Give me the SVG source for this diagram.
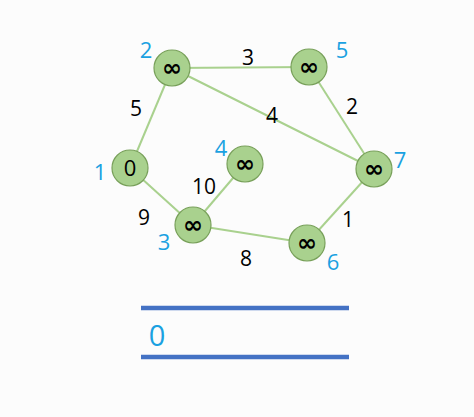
<svg xmlns="http://www.w3.org/2000/svg" width="474" height="417" viewBox="0 0 474 417">
<style>
.n{fill:#a9d18e;stroke:#78a05a;stroke-width:1.2}
.t{font-family:"Open Sans","Liberation Sans",sans-serif;font-size:22px;fill:#000;text-anchor:middle}
.i{font-family:"DejaVu Sans",sans-serif;font-size:24px;font-weight:bold;fill:#000;text-anchor:middle}
.b{font-family:"Open Sans","Liberation Sans",sans-serif;font-size:22px;fill:#1aa1e1;text-anchor:middle}
.w{font-family:"Open Sans","Liberation Sans",sans-serif;font-size:21px;fill:#000;text-anchor:middle}
.e{stroke:#a9d18e;stroke-width:2;fill:none}
</style>
<rect width="474" height="417" fill="#fcfcfc"/>
<g id="connectors">
<line class="e" x1="172" y1="68" x2="309" y2="67"/>
<line class="e" x1="172" y1="68" x2="374" y2="169"/>
<line class="e" x1="172" y1="68" x2="130" y2="168"/>
<line class="e" x1="309" y1="67" x2="374" y2="169"/>
<line class="e" x1="374" y1="169" x2="307" y2="243"/>
<line class="e" x1="130" y1="168" x2="193" y2="225"/>
<line class="e" x1="193" y1="225" x2="245" y2="164"/>
<line class="e" x1="193" y1="225" x2="307" y2="243"/>
<text class="w" x="248" y="65">3</text>
<text class="w" x="136" y="116">5</text>
<text class="w" x="272" y="123">4</text>
<text class="w" x="352" y="114">2</text>
<text class="w" x="204" y="194">10</text>
<text class="w" x="144" y="225">9</text>
<text class="w" x="246" y="266">8</text>
<text class="w" x="348" y="227">1</text>
</g>
<g id="node1"><circle class="n" cx="130" cy="168" r="18"/><text class="t" x="130" y="176">0</text><text class="b" x="100" y="180">1</text></g>
<g id="node2"><circle class="n" cx="172" cy="68" r="18"/><text class="i" x="172" y="76">∞</text><text class="b" x="146" y="58">2</text></g>
<g id="node3"><circle class="n" cx="193" cy="225" r="18"/><text class="i" x="193" y="233">∞</text><text class="b" x="164" y="250">3</text></g>
<g id="node4"><circle class="n" cx="245" cy="164" r="18"/><text class="i" x="245" y="172">∞</text><text class="b" x="221" y="156">4</text></g>
<g id="node5"><circle class="n" cx="309" cy="67" r="18"/><text class="i" x="309" y="75">∞</text><text class="b" x="342" y="58">5</text></g>
<g id="node6"><circle class="n" cx="307" cy="243" r="18"/><text class="i" x="307" y="251">∞</text><text class="b" x="333" y="270">6</text></g>
<g id="node7"><circle class="n" cx="374" cy="169" r="18"/><text class="i" x="374" y="177">∞</text><text class="b" x="400" y="168">7</text></g>
<g id="queue">
<line x1="141" y1="308" x2="349" y2="308" stroke="#4472c4" stroke-width="4.5"/>
<line x1="141" y1="357" x2="349" y2="357" stroke="#4472c4" stroke-width="4.5"/>
<text x="157" y="346" font-family="Open Sans,Liberation Sans,sans-serif" font-size="29" fill="#1aa1e1" text-anchor="middle">0</text>
</g>
</svg>
